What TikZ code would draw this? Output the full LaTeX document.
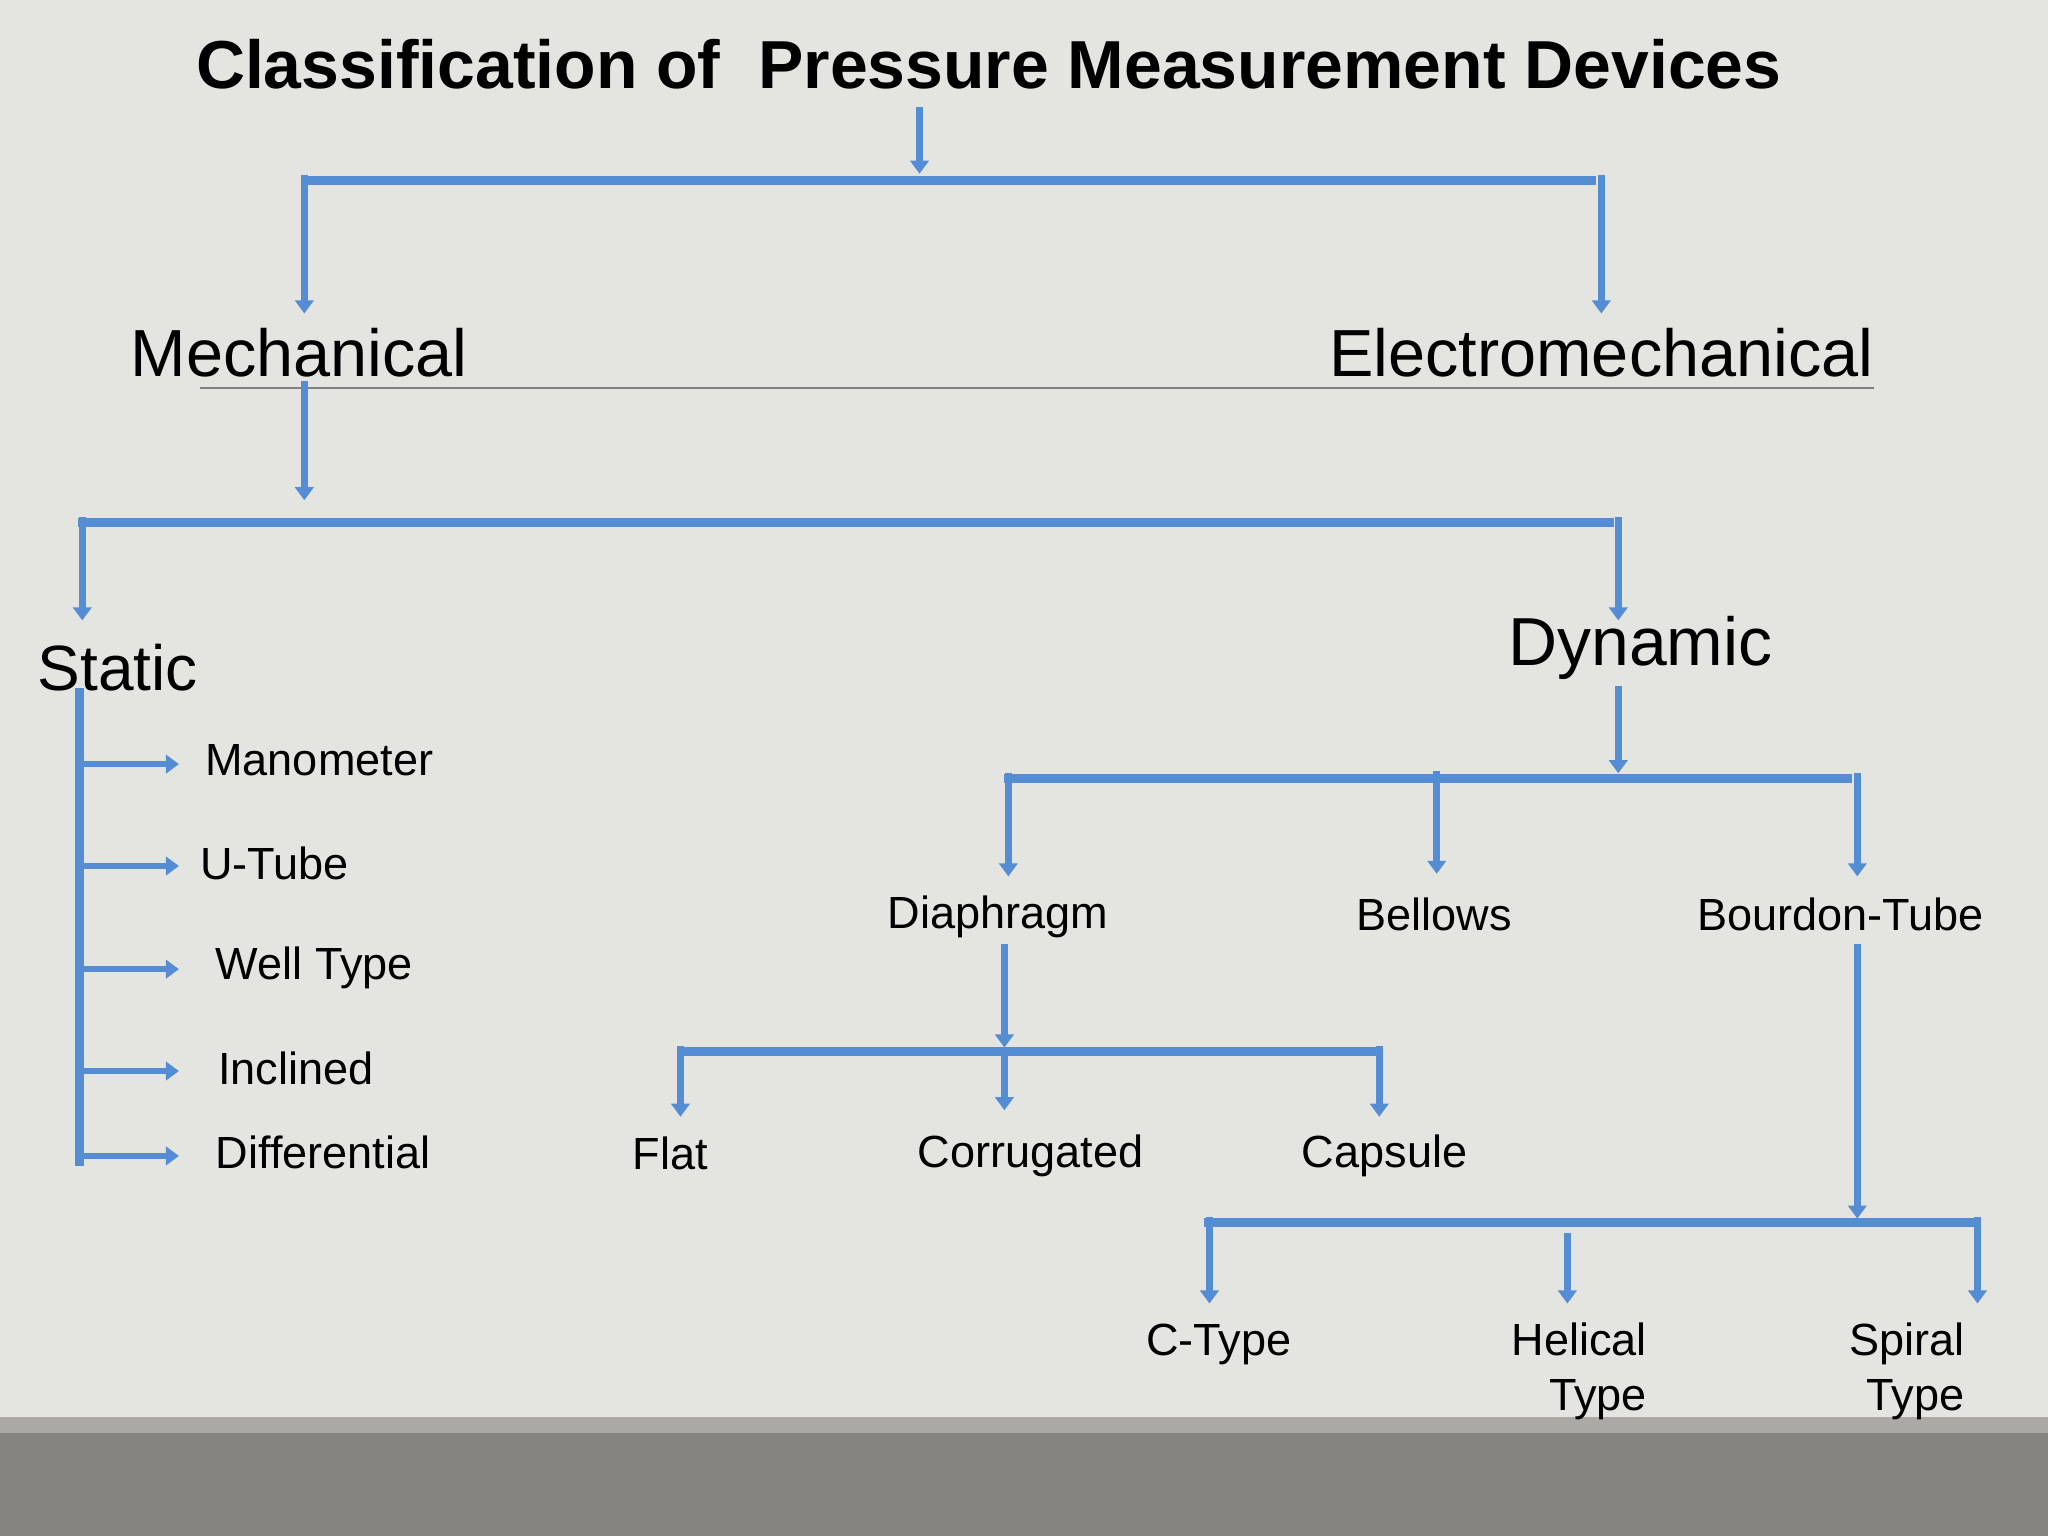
\documentclass[tikz,border=0pt]{standalone}
\usepackage{fontspec}
\setmainfont{Liberation Sans}
\usetikzlibrary{arrows.meta}
\definecolor{bar}{RGB}{84,141,212}
\definecolor{bard}{RGB}{60,110,175}
\definecolor{bg}{RGB}{228,228,224}
\tikzset{
 hb/.style={bar, line width=7pt},
 ar/.style={bar, line width=5pt, -{Triangle[length=10pt,width=14pt]}},
 sm/.style={font=\fontsize{34.5}{40}\selectfont, inner sep=0pt},
 bg1/.style={font=\fontsize{51}{58}\selectfont, inner sep=0pt},
}
\begin{document}
\begin{tikzpicture}[x=1pt,y=-1pt]
\fill[bg] (0,0) rectangle (1568,1176);
\useasboundingbox (0,0) rectangle (1568,1176);
\fill[color={rgb,255:red,170;green,169;blue,165}] (0,1085) rectangle (1568,1097);
\fill[color={rgb,255:red,133;green,132;blue,129}] (0,1097) rectangle (1568,1176);
\node (title) at (757,49) {\fontsize{52}{58}\selectfont\bfseries Classification of\ \ Pressure Measurement Devices};
% level 1
\draw[ar] (704,82) -- (704,133);
\draw[hb] (236,138) -- (1222,138);
\draw[ar] (233,134) -- (233,240);
\draw[ar] (1226,134) -- (1226,240);
\node[bg1] (mech) at (229,270) {Mechanical};
\node[bg1] (elec) at (1226,270) {Electromechanical};
\draw[gray, line width=1pt] (153,297) -- (1435,297);
% level 2
\draw[ar] (233,292) -- (233,383);
\draw[hb] (60,400) -- (1236,400);
\draw[ar] (63,396) -- (63,475);
\draw[ar] (1239,396) -- (1239,475);
\node[font=\fontsize{49}{56}\selectfont, inner sep=0pt] (static) at (90,511) {Static};
\node[font=\fontsize{52}{58}\selectfont, inner sep=0pt] (dyn) at (1256,496) {Dynamic};
% static
\draw[bar, line width=7pt] (61,527) -- (61,893);
\foreach \y in {585,663,742,820,885} \draw[ar] (61,\y) -- (137,\y);
\node[sm, anchor=west] (mano) at (157,582) {Manometer};
\node[sm, anchor=west] (ut) at (153,661) {U-Tube};
\node[sm, anchor=west] (wt) at (165,741) {Well Type};
\node[sm, anchor=west] (inc) at (167,818) {Inclined};
\node[sm, anchor=west] (dif) at (165,882) {Differential};
% dynamic
\draw[ar] (1239,525) -- (1239,592);
\draw[hb] (769,596) -- (1418,596);
\draw[ar] (772,592) -- (772,671);
\draw[ar] (1100,590) -- (1100,669);
\draw[ar] (1422,592) -- (1422,671);
\node[sm] (dia) at (764,702) {Diaphragm};
\node[sm] (bel) at (1098,700) {Bellows};
\node[sm] (bt) at (1409,700) {Bourdon-Tube};
% diaphragm
\draw[ar] (769,723) -- (769,802);
\draw[hb] (518,805) -- (1059,805);
\draw[ar] (521,801) -- (521,855);
\draw[ar] (769,808) -- (769,850);
\draw[ar] (1056,801) -- (1056,855);
\node[sm] (flat) at (513,883) {Flat};
\node[sm] (cor) at (789,885) {Corrugated};
\node[sm] (cap) at (1060,885) {Capsule};
% bourdon
\draw[ar] (1422,723) -- (1422,933);
\draw[hb] (922,936) -- (1517,936);
\draw[ar] (926,932) -- (926,998);
\draw[ar] (1200,944) -- (1200,998);
\draw[ar] (1514,932) -- (1514,998);
\node[sm] (ct) at (933,1029) {C-Type};
\node[sm, align=right, font=\fontsize{34.5}{42}\selectfont] (hel) at (1209,1050) {Helical\\Type};
\node[sm, align=right, font=\fontsize{34.5}{42}\selectfont] (spi) at (1460,1050) {Spiral\\Type};
\end{tikzpicture}
\end{document}
